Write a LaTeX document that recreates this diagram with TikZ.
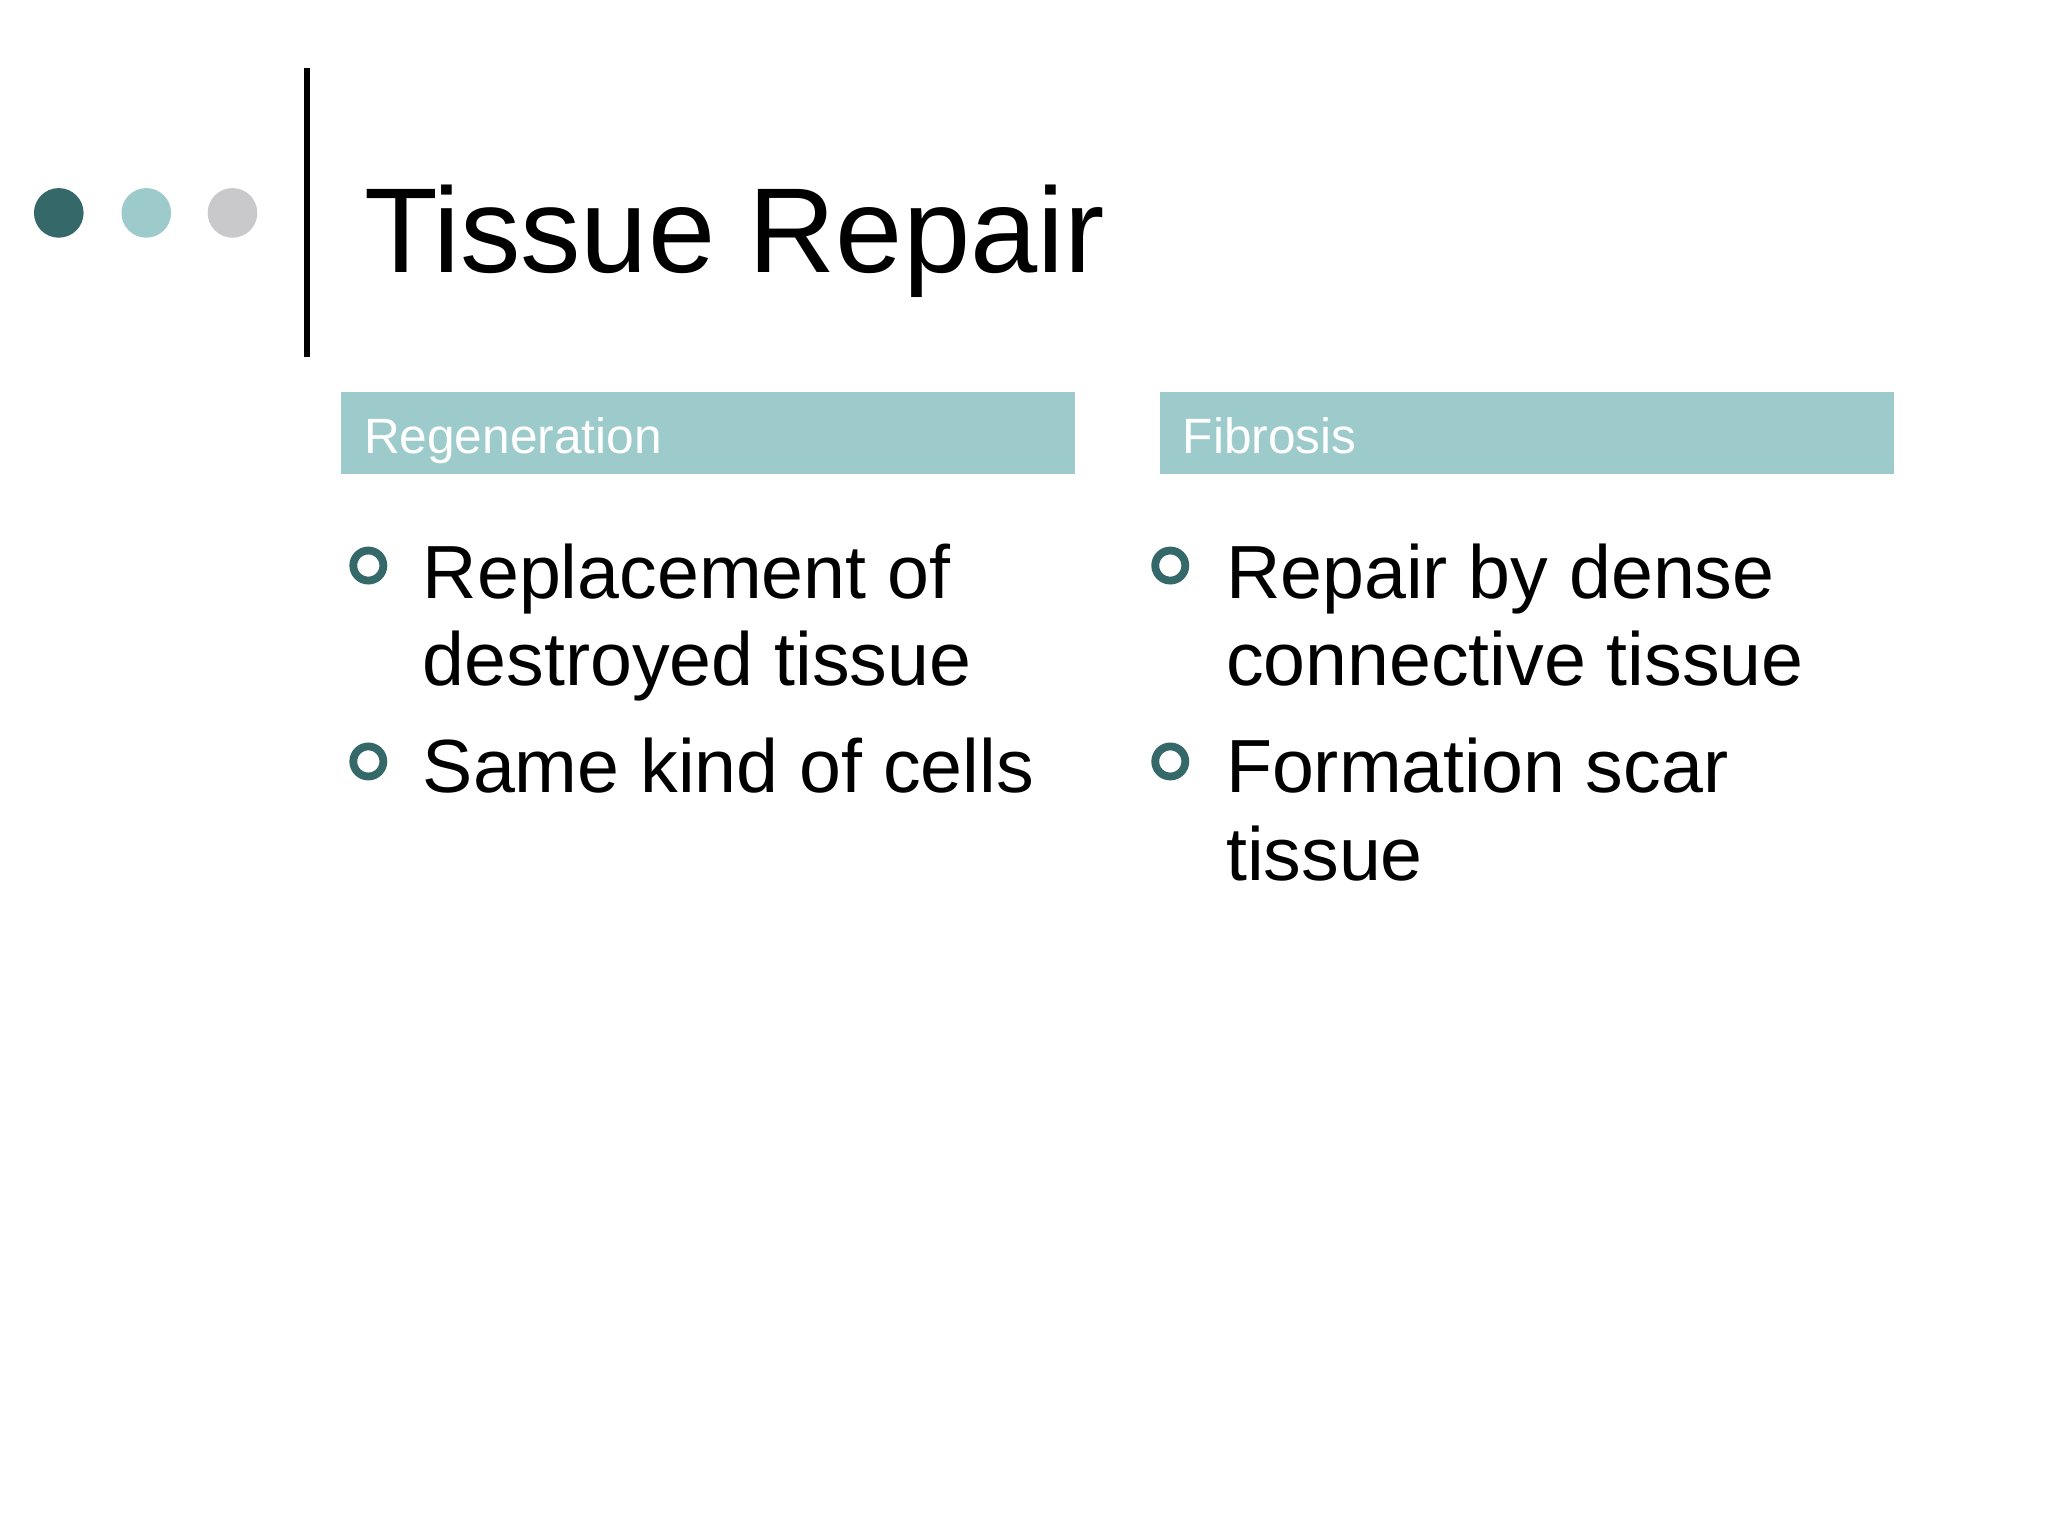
\documentclass[tikz,border=0pt]{standalone}
\usepackage{fontspec}
\setmainfont{Liberation Sans}
\definecolor{dk}{HTML}{356868}
\definecolor{lt}{HTML}{9DCBCB}
\definecolor{gr}{HTML}{C9C9CC}
\begin{document}
\begin{tikzpicture}[x=0.01cm,y=-0.01cm,
  hdr/.style={fill=lt,draw=none},
  hdrtxt/.style={anchor=base west,inner sep=0,text=white,font=\fontsize{10.8pt}{13pt}\selectfont},
  body/.style={anchor=base west,inner sep=0,font=\fontsize{16.4pt}{20pt}\selectfont},
  ring/.style={draw=dk,line width=0.06cm,circle,minimum size=0.23cm,inner sep=0}]
\useasboundingbox (0,0) rectangle (1568,1176);
\fill[white] (0,0) rectangle (1568,1176);
\fill[dk] (45,163) circle (19);
\fill[lt] (112,163) circle (19);
\fill[gr] (178,163) circle (19);
\draw[line width=0.05cm] (235,52) -- (235,273);
\node[anchor=base west,inner sep=0,font=\fontsize{26.3pt}{32pt}\selectfont] (title) at (278,209) {Tissue Repair};
\fill[hdr] (261,300) rectangle (823,363);
\fill[hdr] (888,300) rectangle (1450,363);
\node[hdrtxt] (h1) at (278,347) {Regeneration};
\node[hdrtxt] (h2) at (905,347) {Fibrosis};
\node[ring] (b1) at (282,433) {};
\node[ring] (b2) at (282,583) {};
\node[ring] (b3) at (896,433) {};
\node[ring] (b4) at (896,583) {};
\node[body] (t1) at (323,458) {Replacement of};
\node[body] (t2) at (323,525) {destroyed tissue};
\node[body] (t3) at (323,607) {Same kind of cells};
\node[body] (t4) at (938,458) {Repair by dense};
\node[body] (t5) at (938,525) {connective tissue};
\node[body] (t6) at (938,607) {Formation scar};
\node[body] (t7) at (938,674) {tissue};
\end{tikzpicture}
\end{document}
